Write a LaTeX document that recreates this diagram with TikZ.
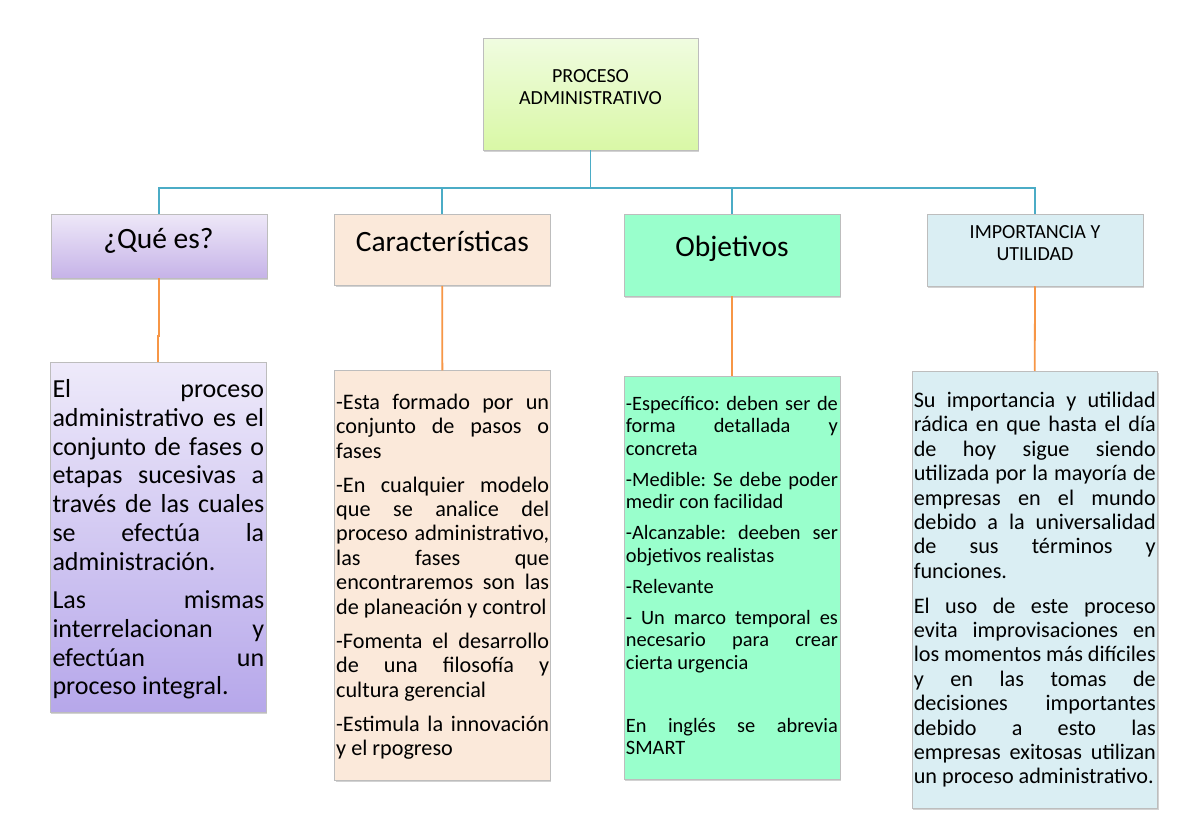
\documentclass[tikz,border=0pt]{standalone}
\usepackage{fontspec}
\setmainfont{Carlito}
\usetikzlibrary{shadows}
\definecolor{busblue}{HTML}{4BACC6}
\definecolor{legorange}{HTML}{F79646}
\definecolor{peach}{HTML}{FBE9DA}
\definecolor{mint}{HTML}{99FFCC}
\definecolor{iceblue}{HTML}{DAEEF3}
\definecolor{lavtop}{HTML}{EEE8F8}
\definecolor{lavbot}{HTML}{C6B3E8}
\definecolor{lavbtop}{HTML}{EEEAFA}
\definecolor{lavbbot}{HTML}{B6A7EA}
\definecolor{limetop}{HTML}{F0FCE0}
\definecolor{limebot}{HTML}{D9F8A6}
\definecolor{edgegray}{HTML}{BDBDBD}
\newcommand\jline[1]{\par\hbox to\hsize{\spaceskip=0.226em plus 1fil minus 0.13em\xspaceskip=\spaceskip\strut#1}}
\newcommand\lline[1]{\par\hbox to\hsize{\spaceskip=0.226em minus 0.13em\xspaceskip=\spaceskip\strut#1\hfil}}
\newcommand\pgap[1]{\par\vskip#1pt}
\tikzset{
  box/.style={draw=edgegray, line width=0.5pt, inner sep=0pt,
    drop shadow={shadow xshift=1.2pt, shadow yshift=-1.6pt, opacity=0.35}},
  busline/.style={draw=busblue, line width=1.8pt},
  legline/.style={draw=legorange, line width=1.8pt},
  bodytext/.style={anchor=north west, inner sep=0pt, text width=#1},
  headtext/.style={anchor=base, inner sep=0pt, font=\fontsize{29.5}{32}\selectfont},
  smalltext/.style={anchor=base, inner sep=0pt, font=\fontsize{20}{22}\selectfont},
}
\begin{document}
\begin{tikzpicture}[x=1pt,y=-1pt]
\fill[white] (0,0) rectangle (1200,832);
\useasboundingbox (0,0) rectangle (1200,832);

% boxes
\node[box, top color=limetop, bottom color=limebot, minimum width=215pt, minimum height=112pt] (root) at (590.5,94.2) {};
\node[box, top color=lavtop, bottom color=lavbot, minimum width=216pt, minimum height=64pt] (qh) at (159,246) {};
\node[box, fill=peach, minimum width=215.4pt, minimum height=71.7pt] (ch) at (442.3,249.85) {};
\node[box, fill=mint, minimum width=216pt, minimum height=82pt] (oh) at (732,255) {};
\node[box, fill=iceblue, minimum width=216pt, minimum height=72pt] (ih) at (1035,250) {};
\node[box, top color=lavbtop, bottom color=lavbbot, minimum width=216pt, minimum height=350pt] (qb) at (158,537) {};
\node[box, fill=peach, minimum width=215.3pt, minimum height=409.3pt] (cb) at (442.35,575.35) {};
\node[box, fill=mint, minimum width=216pt, minimum height=403pt] (ob) at (732,577.5) {};
\node[box, fill=iceblue, minimum width=245.5pt, minimum height=437pt] (ib) at (1034.75,589.5) {};

% connectors
\coordinate (bus) at (0,188);
\coordinate (jog) at (0,336);
\draw[busline] (root.south) -- (root.south |- bus);
\draw[busline] (qh.north) -- (qh.north |- bus) -- (ih.north |- bus) -- (ih.north);
\draw[busline] (ch.north) -- (ch.north |- bus);
\draw[busline] (oh.north) -- (oh.north |- bus);
\draw[legline] (qh.south) -- (qh.south |- jog) -- (qb.north |- jog) -- (qb.north);
\draw[legline] (ch.south) -- (cb.north);
\draw[legline] (oh.south) -- (ob.north);
\draw[legline] (ih.south) -- (ib.north);

% header texts
\node[smalltext] (roott1) at (590.5,82.7) {PROCESO};
\node[smalltext] (roott2) at (590.5,105) {ADMINISTRATIVO};
\node[headtext] (qht) at (158.5,248) {¿Qué es?};
\node[headtext] (cht) at (442.3,251) {Características};
\node[headtext] (oht) at (732,256) {Objetivos};
\node[smalltext] (iht1) at (1035,238) {IMPORTANCIA Y};
\node[smalltext] (iht2) at (1035,260) {UTILIDAD};

% body texts
\node[bodytext=211.7pt, font=\fontsize{26}{28.7}\selectfont] (qbt) at (52.3,368.9) {%
\jline{El proceso}
\jline{administrativo es el}
\jline{conjunto de fases o}
\jline{etapas sucesivas a}
\jline{través de las cuales}
\jline{se efectúa la}
\lline{administración.}
\pgap{10.1}
\jline{Las mismas}
\jline{interrelacionan y}
\jline{efectúan un}
\lline{proceso integral.}};

\node[bodytext=213pt, font=\fontsize{22.2}{24.4}\selectfont] (cbt) at (336,384.6) {%
\jline{-Esta formado por un}
\jline{conjunto de pasos o}
\lline{fases}
\pgap{9.7}
\jline{-En cualquier modelo}
\jline{que se analice del}
\jline{proceso administrativo,}
\jline{las fases que}
\jline{encontraremos son las}
\lline{de planeación y control}
\pgap{9.7}
\jline{-Fomenta el desarrollo}
\jline{de una filosofía y}
\lline{cultura gerencial}
\pgap{9.7}
\jline{-Estimula la innovación}
\lline{y el rpogreso}};

\node[bodytext=212pt, font=\fontsize{20.4}{22.5}\selectfont] (obt) at (625.7,387.6) {%
\jline{-Específico: deben ser de}
\jline{forma detallada y}
\lline{concreta}
\pgap{8.5}
\jline{-Medible: Se debe poder}
\lline{medir con facilidad}
\pgap{8.5}
\jline{-Alcanzable: deeben ser}
\lline{objetivos realistas}
\pgap{8.5}
\lline{-Relevante}
\pgap{8.5}
\jline{- Un marco temporal es}
\jline{necesario para crear}
\lline{cierta urgencia}
\pgap{40.5}
\jline{En inglés se abrevia}
\lline{SMART}};

\node[bodytext=242pt, font=\fontsize{22.2}{24.4}\selectfont] (ibt) at (913.6,382.9) {%
\jline{Su importancia y utilidad}
\jline{rádica en que hasta el día}
\jline{de hoy sigue siendo}
\jline{utilizada por la mayoría de}
\jline{empresas en el mundo}
\jline{debido a la universalidad}
\jline{de sus términos y}
\lline{funciones.}
\pgap{10.4}
\jline{El uso de este proceso}
\jline{evita improvisaciones en}
\jline{los momentos más difíciles}
\jline{y en las tomas de}
\jline{decisiones importantes}
\jline{debido a esto las}
\jline{empresas exitosas utilizan}
\lline{un proceso administrativo.}};
\end{tikzpicture}
\end{document}
